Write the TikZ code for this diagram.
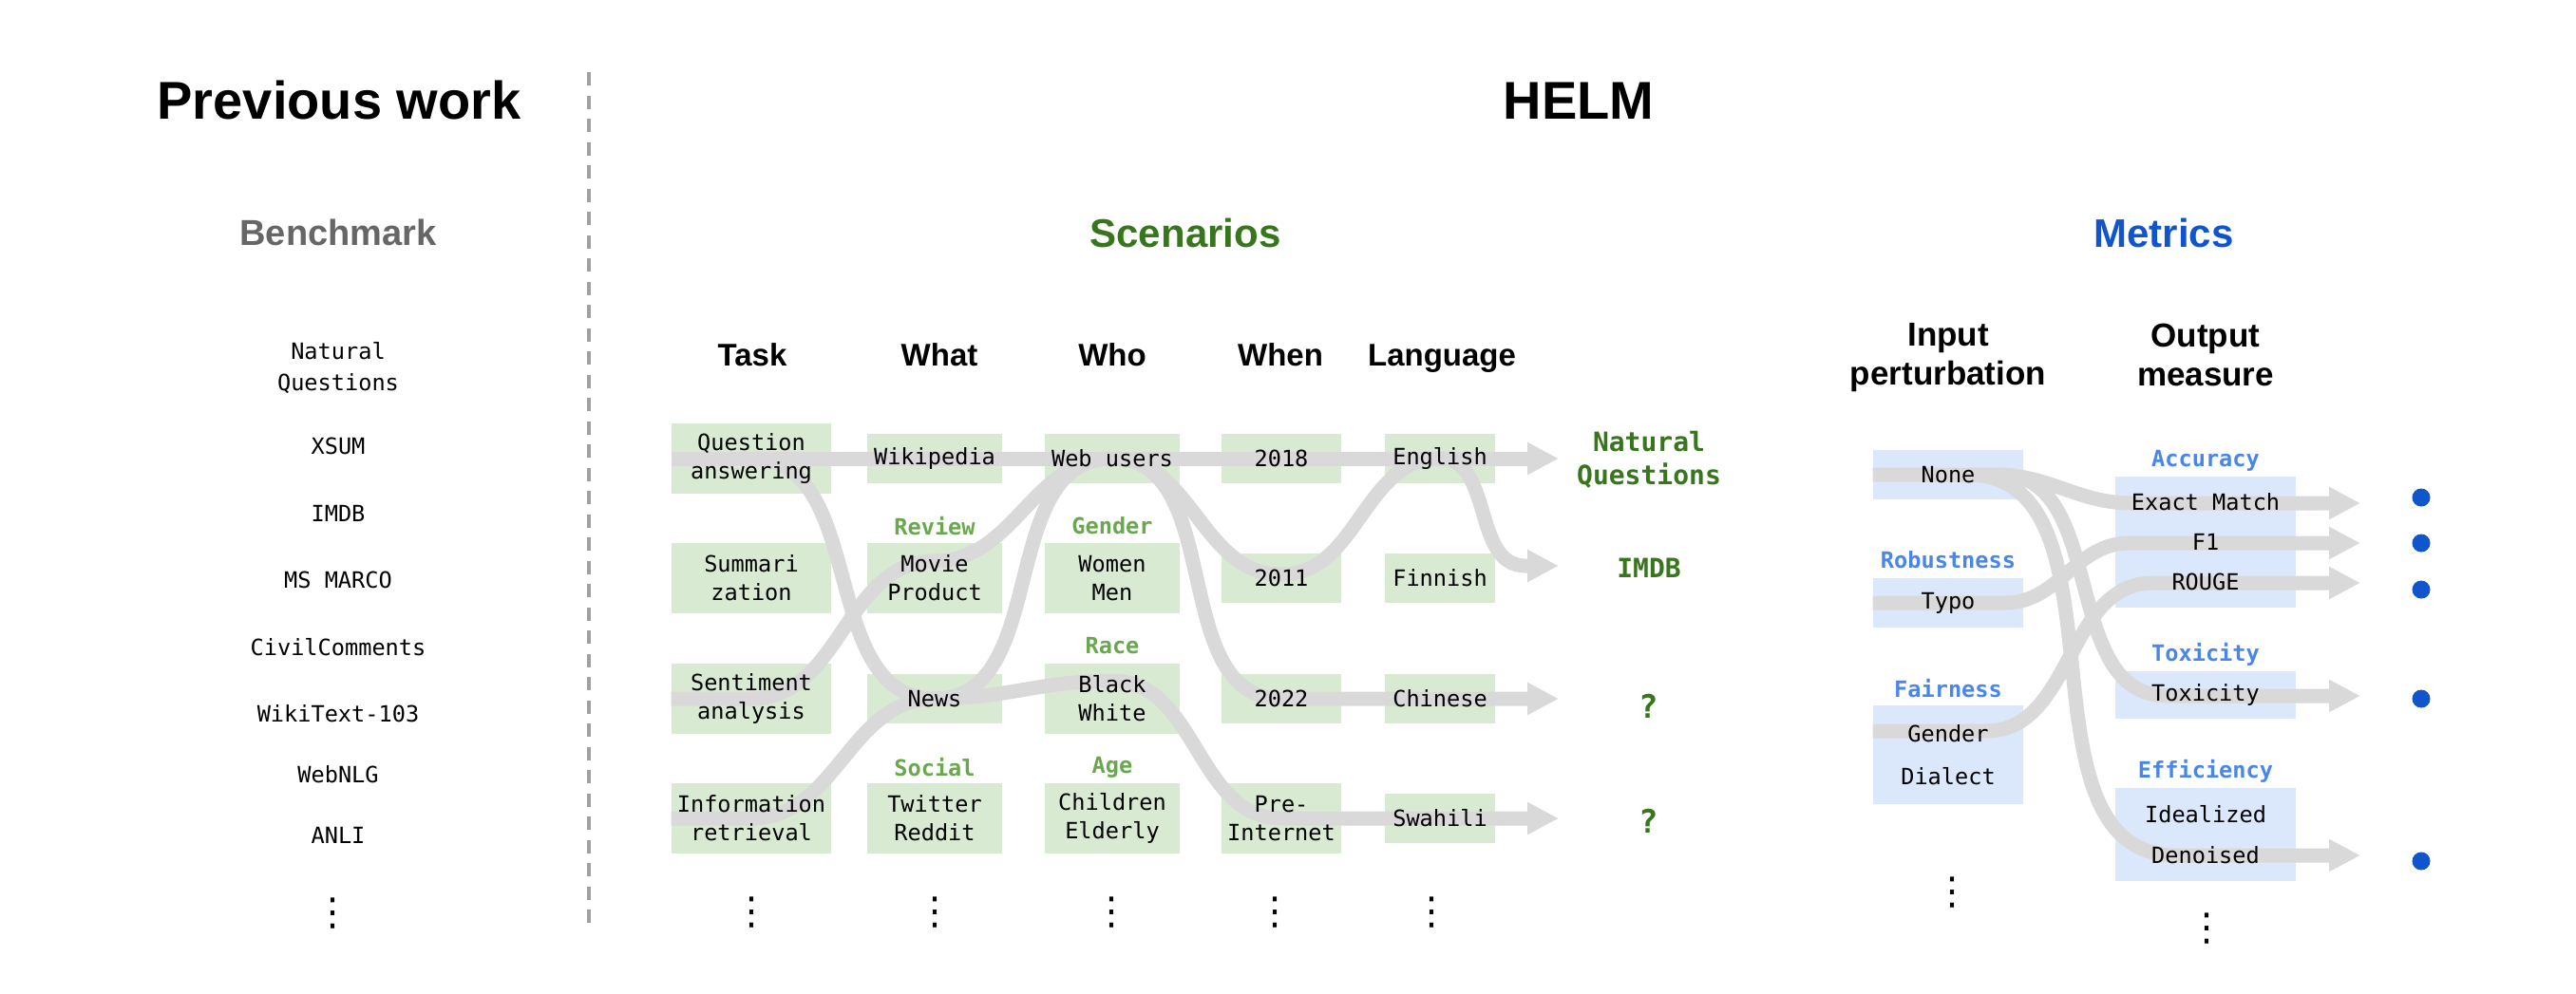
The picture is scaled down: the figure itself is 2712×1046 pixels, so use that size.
\documentclass[tikz,border=0pt]{standalone}
\usepackage{fontspec}
\setmainfont{Liberation Sans}
\setmonofont{DejaVu Sans Mono}
\newfontfamily\dotsfont{DejaVu Sans}
\usepackage{tikz}
\usetikzlibrary{arrows.meta,calc}
\definecolor{flowgray}{RGB}{217,217,217}
\definecolor{boxgreen}{RGB}{217,234,211}
\definecolor{boxblue}{RGB}{219,232,252}
\definecolor{labelgreen}{RGB}{106,168,79}
\definecolor{darkgreen}{RGB}{56,118,29}
\definecolor{labelblue}{RGB}{74,134,232}
\definecolor{darkblue}{RGB}{17,85,204}
\definecolor{benchgray}{RGB}{102,102,102}
\definecolor{dashgray}{RGB}{160,160,160}
\pgfdeclarelayer{boxes}
\pgfdeclarelayer{flows}
\pgfsetlayers{boxes,flows,main}
\tikzset{
    heading/.style={font=\fontsize{28}{32}\selectfont\bfseries, anchor=base},
    part/.style={font=\fontsize{21}{24}\selectfont\bfseries, anchor=base},
    colname/.style={font=\fontsize{16.5}{20}\selectfont\bfseries, anchor=base},
    colname2/.style={font=\fontsize{17.5}{20.5}\selectfont\bfseries, align=center},
    bench/.style={font=\ttfamily\fontsize{11.8}{16.5}\selectfont, align=center, anchor=base},
    entry/.style={font=\ttfamily\fontsize{11.8}{15}\selectfont, align=center, inner sep=0pt},
    one/.style={entry, minimum height=25.5pt},
    two/.style={entry, minimum height=37pt},
    wd/.style={minimum width=#1},
    glabel/.style={font=\ttfamily\bfseries\fontsize{11.8}{15}\selectfont, text=labelgreen},
    blabel/.style={font=\ttfamily\bfseries\fontsize{11.8}{15}\selectfont, text=labelblue},
    outcome/.style={font=\ttfamily\bfseries\fontsize{14}{17.5}\selectfont, text=darkgreen, align=center},
    vdots/.style={font=\dotsfont\fontsize{20}{20}\selectfont, inner sep=0pt},
    flow/.style={draw=flowgray, line width=7.5pt},
    flowarrow/.style={flow, -{Triangle[length=16.5pt, width=16pt]}},
    bluedot/.style={circle, fill=darkblue, inner sep=0pt, minimum size=9.5pt},
}

\begin{document}
\begin{tikzpicture}[x=0.5pt, y=-0.5pt]
    \useasboundingbox (0,0) rectangle (2712,1046);

    % titles
    \node[heading] (prev) at (357,125) {Previous work};
    \node[heading] (helm) at (1662,125) {HELM};
    \node[part, font=\fontsize{19}{22}\selectfont\bfseries, text=benchgray] (bench) at (356,258) {Benchmark};
    \node[part, text=darkgreen] (scen) at (1248,260) {Scenarios};
    \node[part, text=darkblue] (metr) at (2278,260) {Metrics};

    % divider
    \coordinate (divtop) at (620,76);
    \coordinate (divbot) at (620,982);
    \draw[dashgray, line width=1.75pt, dash pattern=on 7pt off 5.25pt] (divtop) -- (divbot);

    % previous work
    \node[bench, anchor=center] (bnq) at (356,388) {Natural\\Questions};
    \node[bench] (bxsum) at (356,478) {XSUM};
    \node[bench] (bimdb) at (356,549) {IMDB};
    \node[bench] (bmarco) at (356,619) {MS MARCO};
    \node[bench] (bcivil) at (356,690) {CivilComments};
    \node[bench] (bwiki) at (356,760) {WikiText-103};
    \node[bench] (bnlg) at (356,824) {WebNLG};
    \node[bench] (banli) at (356,888) {ANLI};
    \node[vdots] (bdots) at (350,962) {⋮};

    % scenario columns
    \node[colname] (htask) at (792,385) {Task};
    \node[colname] (hwhat) at (989,385) {What};
    \node[colname] (hwho) at (1171,385) {Who};
    \node[colname] (hwhen) at (1348,385) {When};
    \node[colname] (hlang) at (1518,385) {Language};

    \node[two, wd=84pt] (qa) at (791,483) {Question\\answering};
    \node[two, wd=84pt] (summ) at (791,609) {Summari\\zation};
    \node[two, wd=84pt] (sent) at (791,736) {Sentiment\\analysis};
    \node[two, wd=84pt] (info) at (791,862) {Information\\retrieval};

    \node[one, wd=70.5pt] (wiki) at (984,483) {Wikipedia};
    \node[glabel] (review) at (984,554) {Review};
    \node[two, wd=70.5pt] (movie) at (984,609) {Movie\\Product};
    \node[one, wd=70.5pt] (news) at (984,736) {News};
    \node[glabel] (social) at (984,808) {Social};
    \node[two, wd=70.5pt] (twit) at (984,862) {Twitter\\Reddit};

    \node[one, wd=71pt] (web) at (1171,483) {Web users};
    \node[glabel] (gender) at (1171,554) {Gender};
    \node[two, wd=71pt] (women) at (1171,609) {Women\\Men};
    \node[glabel] (race) at (1171,680) {Race};
    \node[two, wd=71pt] (black) at (1171,736) {Black\\White};
    \node[glabel] (age) at (1171,808) {Age};
    \node[two, wd=71pt] (child) at (1171,862) {Children\\Elderly};

    \node[one, wd=63pt] (y2018) at (1349,483) {2018};
    \node[one, wd=63pt] (y2011) at (1349,609) {2011};
    \node[one, wd=63pt] (y2022) at (1349,736) {2022};
    \node[two, wd=63pt] (preint) at (1349,862) {Pre-\\Internet};

    \node[one, wd=58pt] (eng) at (1516,483) {English};
    \node[one, wd=58pt] (fin) at (1516,609) {Finnish};
    \node[one, wd=58pt] (chin) at (1516,736) {Chinese};
    \node[one, wd=58pt] (swa) at (1516,862) {Swahili};

    \node[vdots] (dtask) at (791,961) {⋮};
    \node[vdots] (dwhat) at (984,961) {⋮};
    \node[vdots] (dwho) at (1170,961) {⋮};
    \node[vdots] (dwhen) at (1342,961) {⋮};
    \node[vdots] (dlang) at (1507,961) {⋮};

    \node[outcome] (onq) at (1736,484) {Natural\\Questions};
    \node[outcome] (oimdb) at (1736,598) {IMDB};
    \node[outcome, font=\ttfamily\bfseries\fontsize{17}{20}\selectfont] (oq1) at (1736,744) {?};
    \node[outcome, font=\ttfamily\bfseries\fontsize{17}{20}\selectfont] (oq2) at (1736,865) {?};

    \coordinate (tipnq) at (1641,483);
    \coordinate (tipimdb) at (1641,596);
    \coordinate (tipq1) at (1641,736);
    \coordinate (tipq2) at (1641,862);

    % metrics columns
    \node[colname2] (hinput) at (2051,377) {Input\\perturbation};
    \node[colname2] (houtput) at (2322,374) {Output\\measure};

    \node[entry, minimum height=25.5pt, wd=79pt] (none) at (2051,500) {None};
    \node[blabel] (robust) at (2051,590) {Robustness};
    \node[entry, minimum height=25.5pt, wd=79pt] (typo) at (2051,635) {Typo};
    \node[blabel] (fair) at (2051,725) {Fairness};
    \node[entry, minimum height=52pt, wd=79pt, font=\ttfamily\fontsize{11.8}{22.5}\selectfont] (gend) at (2051,795) {Gender\\Dialect};
    \node[vdots] (dinput) at (2055,940) {⋮};

    \node[blabel] (accl) at (2322,485) {Accuracy};
    \node[entry, minimum height=68.5pt, wd=95pt, font=\ttfamily\fontsize{11.8}{21}\selectfont] (acc) at (2322,571) {Exact Match\\F1\\ROUGE};
    \node[blabel] (toxl) at (2322,689) {Toxicity};
    \node[entry, minimum height=25pt, wd=95pt] (tox) at (2322,732) {Toxicity};
    \node[blabel] (effl) at (2322,812) {Efficiency};
    \node[entry, minimum height=49pt, wd=95pt, font=\ttfamily\fontsize{11.8}{21.5}\selectfont] (eff) at (2322,879) {Idealized\\Denoised};
    \node[vdots] (doutput) at (2323,978) {⋮};

    \coordinate (tipem) at (2485,530);
    \coordinate (tipf1) at (2485,572);
    \coordinate (tiprg) at (2485,614);
    \coordinate (tiptox) at (2485,733);
    \coordinate (tipden) at (2485,901);

    \node[bluedot] (dot1) at (2549,524) {};
    \node[bluedot] (dot2) at (2549,572) {};
    \node[bluedot] (dot3) at (2549,621) {};
    \node[bluedot] (dot4) at (2549,736) {};
    \node[bluedot] (dot5) at (2549,907) {};

    % box fills
    \begin{pgfonlayer}{boxes}
        \foreach \b in {qa,summ,sent,info,wiki,movie,news,twit,web,women,black,child,y2018,y2011,y2022,preint,eng,fin,chin,swa}
            \fill[boxgreen] (\b.south west) rectangle (\b.north east);
        \foreach \b in {none,typo,gend,acc,tox,eff}
            \fill[boxblue] (\b.south west) rectangle (\b.north east);
    \end{pgfonlayer}

    % flows
    \begin{pgfonlayer}{flows}
        \draw[flowarrow] (qa.west) -- (tipnq);
        \draw[flowarrow] (sent.west) -- (sent.center) to[out=0,in=180] ($(movie.center)+(0,-18)$)
            to[out=0,in=180] (web.center) to[out=0,in=180] ($(y2011.center)+(0,-4)$)
            to[out=0,in=180] (eng.center) to[out=0,in=180] ($(tipimdb)+(-35,0)$) -- (tipimdb);
        \draw[flowarrow] (qa.center) to[out=0,in=180] (news.center) to[out=0,in=180] (web.center)
            to[out=0,in=180] (y2022.center) -- (tipq1);
        \draw[flowarrow] (info.west) -- (info.center) to[out=0,in=180] (news.center)
            to[out=0,in=180] ($(black.center)+(0,-19)$) to[out=0,in=180] (preint.center) -- (tipq2);

        \draw[flowarrow] (none.west) -- ($(none.center)+(50,0)$) to[out=0,in=180] ($(acc.west)+(18,-41)$) -- (tipem);
        \draw[flowarrow] (typo.west) -- ($(typo.center)+(60,0)$) to[out=0,in=180] ($(acc.west)+(15,1)$) -- (tipf1);
        \draw[flowarrow] ($(gend.west)+(0,-25)$) -- ($(gend.center)+(40,-25)$) to[out=0,in=180] ($(acc.west)+(40,43)$) -- (tiprg);
        \draw[flowarrow] ($(none.center)+(55,0)$) to[out=0,in=180] ($(tox.west)+(55,1)$) -- (tiptox);
        \draw[flowarrow] ($(none.center)+(20,0)$) to[out=0,in=180] ($(eff.west)+(65,22)$) -- (tipden);
    \end{pgfonlayer}
\end{tikzpicture}
\end{document}
